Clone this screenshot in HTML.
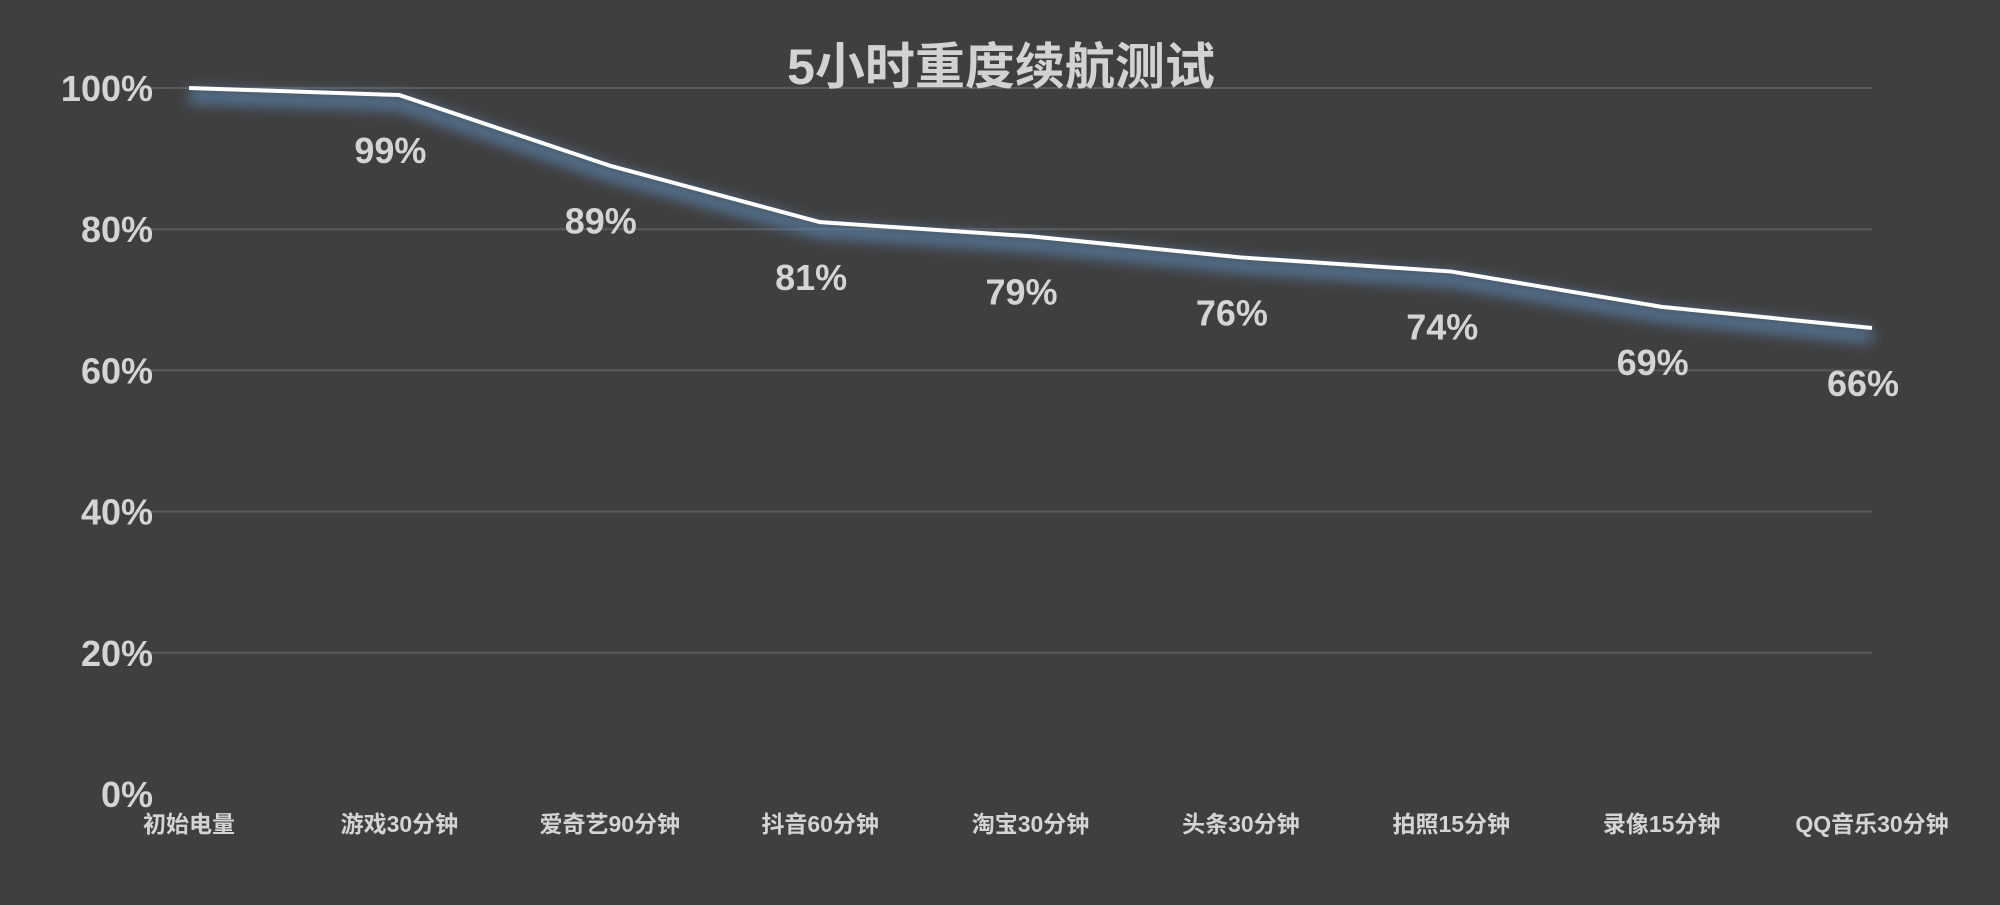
<!DOCTYPE html>
<html><head><meta charset="utf-8"><style>
html,body{margin:0;padding:0;background:#3f3f3f;}
svg{display:block;font-family:"Liberation Sans","Noto Sans CJK SC",sans-serif;}
</style></head><body>
<svg id="chart" width="2000" height="905" viewBox="0 0 2000 905">
<defs>
<filter id="glow" x="-10%" y="-50%" width="120%" height="200%"><feGaussianBlur stdDeviation="7"/></filter>
</defs>
<rect width="2000" height="905" fill="#3f3f3f"/>
<g id="grid"></g>
<text x="1001" y="84" text-anchor="middle" font-size="50" font-weight="bold" fill="#d2d2d2">5小时重度续航测试</text>
<g id="ylabels"></g><g id="xlabels"></g><g id="series"></g><g id="vlabels"></g>
</svg>
<script>
const categories=["初始电量","游戏30分钟","爱奇艺90分钟","抖音60分钟","淘宝30分钟","头条30分钟","拍照15分钟","录像15分钟","QQ音乐30分钟"];
const values=[100,99,89,81,79,76,74,69,66];
const yTicks=[0,20,40,60,80,100];
const valueLabels=["","99%","89%","81%","79%","76%","74%","69%","66%"];
const NS="http://www.w3.org/2000/svg";
const x0=189,x1=1872,yTop=88,yBot=794;
function xs(i){return x0+(x1-x0)*i/(categories.length-1);}
function ys(v){return yBot-(yBot-yTop)*v/100;}
function mk(tag,attrs,parent){const e=document.createElementNS(NS,tag);for(const k in attrs)e.setAttribute(k,attrs[k]);parent.appendChild(e);return e;}
const grid=document.getElementById('grid'),yl=document.getElementById('ylabels'),xl=document.getElementById('xlabels'),se=document.getElementById('series'),vl=document.getElementById('vlabels');
yTicks.forEach(t=>{
 if(t>0){const l=mk('line',{x1:x0-50,x2:x1,y1:ys(t),y2:ys(t),stroke:'#5a5a5a','stroke-width':2},grid);
 
 }
 const tx=mk('text',{x:153,y:ys(t)+13,'text-anchor':'end','font-size':36,'font-weight':'bold',fill:'#d4d4d4'},yl);
 tx.textContent=t+'%';
 
 
});
categories.forEach((c,i)=>{
 const tx=mk('text',{x:xs(i),y:832,'text-anchor':'middle','font-size':23,'font-weight':'bold',fill:'#d4d4d4'},xl);
 tx.textContent=c;
 
 
});
const pts=values.map((v,i)=>xs(i)+','+ys(v)).join(' ');
const g=mk('polyline',{points:values.map((v,i)=>xs(i)+','+(ys(v)+8)).join(' '),fill:'none',stroke:'#5d86b0','stroke-width':14,filter:'url(#glow)',opacity:0.8},se);


const ln=mk('polyline',{points:pts,fill:'none',stroke:'#ffffff','stroke-width':4,'stroke-linejoin':'round'},se);


values.forEach((v,i)=>{
 if(!valueLabels[i])return;
 const tx=mk('text',{x:xs(i)-9,y:ys(v)+68,'text-anchor':'middle','font-size':36,'font-weight':'bold',fill:'#d4d4d4'},vl);
 tx.textContent=valueLabels[i];
 
 
});
</script>
</body></html>
